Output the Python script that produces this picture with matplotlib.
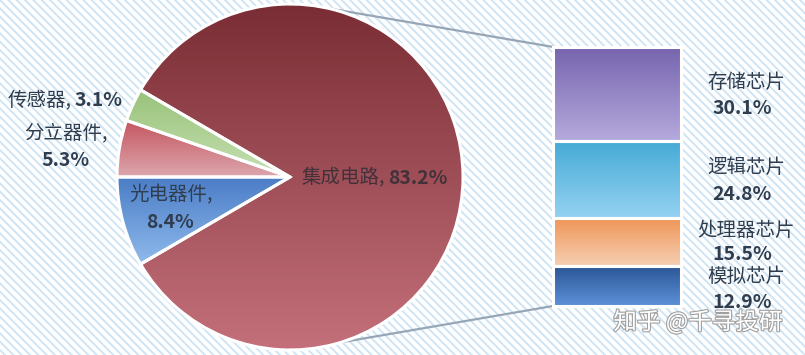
import numpy as np
import matplotlib.pyplot as plt
import matplotlib.patheffects as pe
from matplotlib.colors import to_rgb
from matplotlib.patches import Rectangle

plt.rcParams['font.family'] = ['Noto Sans CJK SC', 'DejaVu Sans']
plt.rcParams['hatch.linewidth'] = 1.4
plt.rcParams['hatch.color'] = '#cfe4f4'

# pie data (order: start at 180 deg, counterclockwise)
pie_names = ['光电器件', '集成电路', '传感器', '分立器件']
pie_vals = [8.4, 83.2, 3.1, 5.3]
pie_top = ['#4a7cc6', '#7a2d34', '#98c27a', '#c4565f']
pie_bot = ['#8fbaec', '#c4707b', '#c6e0b2', '#dda6ae']

# bar data (bottom -> top)
bar_names = ['模拟芯片', '处理器芯片', '逻辑芯片', '存储芯片']
bar_vals = [12.9, 15.5, 24.8, 30.1]
bar_top = ['#2a5595', '#ef9455', '#45aad5', '#7764ae']
bar_bot = ['#5d91d8', '#f6cfb3', '#95d2f2', '#b5aadd']

fig = plt.figure(figsize=(8.05, 3.55), dpi=100)
ax = fig.add_axes([0, 0, 1, 1])
ax.set_facecolor('#eef6fc')


def grad(patch, c1, c2, z):
    ext = patch.get_path().get_extents(patch.get_patch_transform())
    t = np.linspace(0, 1, 256)[:, None, None]
    img = np.array(to_rgb(c2))[None, None, :] * (1 - t) + np.array(to_rgb(c1))[None, None, :] * t
    img = np.repeat(img, 2, axis=1)
    im = ax.imshow(img, extent=[ext.x0, ext.x1, ext.y0, ext.y1], origin='lower',
                   aspect='auto', interpolation='bilinear', zorder=z)
    im.set_clip_path(patch)
    patch.set_facecolor('none')


cx, cy, r = 290, 178, 173
wedges, _ = ax.pie(pie_vals, startangle=180, counterclock=True, center=(cx, cy), radius=r,
                   wedgeprops=dict(edgecolor='white', linewidth=2.2, zorder=4), frame=True)
for w, c1, c2 in zip(wedges, pie_top, pie_bot):
    grad(w, c1, c2, 3)

bx, bw, by0, scale = 617, 128, 49, 3.11
bars = ax.bar([bx] * 4, np.array(bar_vals) * scale, bottom=by0 + np.concatenate([[0], np.cumsum(bar_vals)[:-1]]) * scale,
              width=bw, edgecolor='white', linewidth=2.2, zorder=4)
for b, c1, c2 in zip(bars, bar_top, bar_bot):
    grad(b, c1, c2, 3)

# connector lines
top_y = by0 + sum(bar_vals) * scale
a1, a2 = np.radians(77), np.radians(-73)
ax.plot([cx + r * np.cos(a1), bx - bw / 2], [cy + r * np.sin(a1), top_y], color='#97a6b6', lw=1.6, zorder=2)
ax.plot([cx + r * np.cos(a2), bx - bw / 2], [cy + r * np.sin(a2), by0], color='#97a6b6', lw=1.6, zorder=2)

# hatched background
ax.add_patch(Rectangle((0, 0), 805, 355, facecolor='none', edgecolor='#cfe4f4', hatch='\\\\\\\\', lw=0, zorder=0))

ax.set_xlim(0, 805)
ax.set_ylim(0, 355)
ax.set_axis_off()

tc = '#2f3d4f'
fs = 14
Y = lambda p: 355 - p

# pie labels
ax.text(72, Y(100), '传感器,', ha='right', va='center', fontsize=fs, color=tc, zorder=6)
ax.text(75, Y(100), '3.1%', ha='left', va='center', fontsize=fs, color=tc, weight='bold', zorder=6)
ax.text(66, Y(133), '分立器件,', ha='center', va='center', fontsize=fs, color=tc, zorder=6)
ax.text(66, Y(160), '5.3%', ha='center', va='center', fontsize=fs, color=tc, weight='bold', zorder=6)
ax.text(171, Y(195), '光电器件,', ha='center', va='center', fontsize=fs, color=tc, zorder=6)
ax.text(170, Y(222), '8.4%', ha='center', va='center', fontsize=fs, color=tc, weight='bold', zorder=6)
ax.text(385, Y(178), '集成电路,', ha='right', va='center', fontsize=fs, color='#43313a', zorder=6)
ax.text(388, Y(178), '83.2%', ha='left', va='center', fontsize=fs, color='#43313a', weight='bold', zorder=6)

# bar labels
lab_y = [(276, 302), (230, 255), (167, 194), (82, 108)]
for name, v, (y1, y2) in zip(bar_names, bar_vals, lab_y):
    ax.text(746, Y(y1), name, ha='center', va='center', fontsize=fs, color=tc, zorder=6)
    ax.text(742, Y(y2), f'{v}%', ha='center', va='center', fontsize=fs, color=tc, weight='bold', zorder=6)

ax.text(698, Y(322), '知乎 @千寻投研', ha='center', va='center', fontsize=17, color='white', zorder=7,
        path_effects=[pe.withStroke(linewidth=1.6, foreground='#a0a0a0')])

fig.savefig('out.png', dpi=100)
